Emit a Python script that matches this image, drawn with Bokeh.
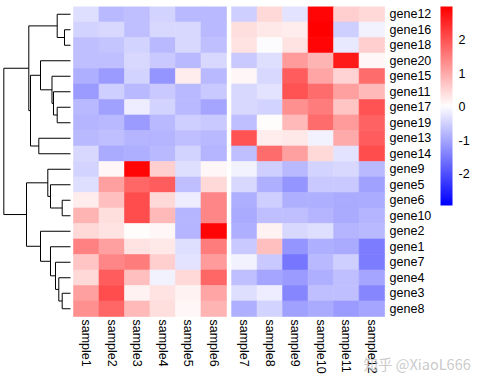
import math
from bokeh.plotting import figure
from bokeh.models import LinearColorMapper, ColorBar, FixedTicker, ColumnDataSource
from bokeh.core.properties import value
from bokeh.transform import transform
from bokeh.embed import file_html
from bokeh.resources import INLINE

# ---------------- data ----------------
samples = ["sample1", "sample2", "sample3", "sample4", "sample5", "sample6",
           "sample7", "sample8", "sample9", "sample10", "sample11", "sample12"]
genes = ["gene12", "gene16", "gene18", "gene20", "gene15", "gene11", "gene17",
         "gene19", "gene13", "gene14", "gene9", "gene5", "gene6", "gene10",
         "gene2", "gene1", "gene7", "gene4", "gene3", "gene8"]

gene12 = [-0.35, -0.75, -0.70, -0.50, -0.75, -0.80, -0.55, 0.50, -0.30, 2.90, 0.60, 0.45]
gene16 = [-0.50, -0.45, -0.70, -0.45, -0.45, -0.75, 0.40, 0.30, 0.25, 3.00, -0.55, -0.15]
gene18 = [-0.70, -0.65, -0.50, -0.75, -0.40, -0.70, 0.35, 0.00, 0.35, 2.90, -0.25, 0.60]
gene20 = [-0.70, -0.70, -0.45, -0.60, -0.75, -0.40, -0.60, -0.35, 1.20, 0.90, 2.65, 0.10]
gene15 = [-0.90, -1.15, -0.50, -1.20, 0.25, -0.80, 0.10, -0.45, 1.90, 1.05, 0.55, 1.70]
gene11 = [-1.15, -0.55, -0.80, -0.60, -0.80, -0.60, -0.40, -0.30, 2.00, 1.70, 1.10, 0.80]
gene17 = [-0.80, -1.10, -0.20, -0.50, -0.80, -1.00, -0.40, -0.50, 1.30, 1.55, 0.70, 2.00]
gene19 = [-0.85, -0.80, -1.15, -0.80, -0.55, -0.60, -0.70, 0.05, 0.80, 1.75, 1.20, 1.85]
gene13 = [-0.80, -0.70, -0.85, -0.85, -0.70, -0.80, 2.00, 0.25, 0.30, -0.10, 1.00, 1.90]
gene14 = [-0.40, -0.95, -0.90, -0.80, -0.50, -0.85, -0.70, 1.70, 1.10, 0.45, -0.30, 2.05]
gene9 = [-0.50, 0.10, 2.90, 0.60, -0.35, 0.10, -0.10, -0.55, -0.75, -0.50, -0.40, -0.75]
gene5 = [-0.35, 1.10, 1.80, 1.90, -0.70, 0.45, -0.45, -0.90, -1.20, -0.60, -0.60, -1.10]
gene6 = [0.25, 0.75, 2.10, 0.45, -0.20, 1.40, -0.90, -0.55, -0.90, -0.90, -0.95, -0.95]
gene10 = [0.90, 0.40, 2.05, 0.80, -0.85, 1.45, -0.95, -0.70, -0.70, -0.85, -0.95, -0.85]
gene2 = [0.45, 0.35, 0.05, 0.10, -0.85, 2.90, -0.90, 0.20, -0.40, -0.35, -0.85, -0.75]
gene1 = [1.50, 1.10, 0.35, 0.30, -0.35, 1.55, -0.60, 0.75, -1.20, -0.90, -0.95, -1.50]
gene7 = [0.70, 1.45, 1.55, 0.60, -0.30, 1.20, -0.10, -0.60, -1.55, -0.80, -0.55, -1.50]
gene4 = [0.45, 1.90, 0.75, -0.10, 0.45, 1.80, -0.70, -1.00, -1.15, -0.90, -0.70, -1.00]
gene3 = [1.10, 2.10, 0.20, 0.35, 0.15, 1.05, -0.35, -0.20, -1.40, -0.70, -0.70, -1.35]
gene8 = [1.30, 1.80, 0.80, 0.40, 0.10, 0.90, -0.90, -0.50, -1.10, -0.95, -1.15, -1.00]

rows = [gene12, gene16, gene18, gene20, gene15, gene11, gene17, gene19, gene13, gene14,
        gene9, gene5, gene6, gene10, gene2, gene1, gene7, gene4, gene3, gene8]

# row dendrogram: (node, left, right, merge height)
merges = [
    ("n0", "gene16", "gene18", 0.60),
    ("n1", "gene12", "n0", 1.33),
    ("n2", "gene17", "gene19", 1.33),
    ("n3", "gene11", "n2", 1.70),
    ("n4", "gene15", "n3", 1.85),
    ("n5", "gene20", "n4", 3.00),
    ("n6", "gene13", "gene14", 3.17),
    ("n7", "n5", "n6", 4.00),
    ("n8", "n1", "n7", 4.17),
    ("n9", "gene6", "gene10", 0.83),
    ("n10", "gene5", "n9", 2.00),
    ("n11", "gene9", "n10", 2.27),
    ("n12", "gene3", "gene8", 0.83),
    ("n13", "gene4", "n12", 1.17),
    ("n14", "gene7", "n13", 1.50),
    ("n15", "gene1", "n14", 2.00),
    ("n16", "gene2", "n15", 3.00),
    ("n17", "n11", "n16", 4.40),
    ("n18", "n8", "n17", 6.67),
]

colorbar_ticks = [-2, -1, 0, 1, 2]
value_low, value_high = -2.95, 3.0
watermark = "知乎 @XiaoL666"

# ---------------- layout helpers ----------------
NR, NC = len(genes), len(samples)
GAP = 0.2          # gap between the two column clusters (in cell widths)
SPLIT = 6          # column cut after sample6
CELL_W = 25.5      # px per column
CELL_H = 15.5      # px per row
LEAF_X = -0.118    # where dendrogram leaves end
DSCALE = 0.392     # data units per height unit
FRAME_W, FRAME_H = 478, 378


def col_center(j):
    return j + 0.5 + (GAP if j >= SPLIT else 0.0)


def row_center(i):
    return NR - 0.5 - i


def ramp(n):
    out = []
    for k in range(n):
        t = k / (n - 1)
        if t <= 0.5:
            f = t / 0.5
            r = g = int(round(255 * f))
            b = 255
        else:
            f = (t - 0.5) / 0.5
            r = 255
            g = b = int(round(255 * (1 - f)))
        out.append("#%02x%02x%02x" % (r, g, b))
    return out


mapper = LinearColorMapper(palette=ramp(100), low=value_low, high=value_high)

xs, ys, vs = [], [], []
for i, row in enumerate(rows):
    for j, v in enumerate(row):
        xs.append(col_center(j))
        ys.append(row_center(i))
        vs.append(v)
src = ColumnDataSource(dict(x=xs, y=ys, v=vs))

x_left = -(73 - 2) / CELL_W
x_right = x_left + FRAME_W / CELL_W
y_bottom = NR - FRAME_H / CELL_H

p = figure(frame_width=FRAME_W, frame_height=FRAME_H, x_range=(x_left, x_right),
           y_range=(y_bottom, NR), output_backend="svg", toolbar_location=None,
           min_border_left=2, min_border_top=6, min_border_right=0, min_border_bottom=0,
           background_fill_color="white", border_fill_color="white")
p.outline_line_color = None
p.grid.visible = False
p.axis.visible = False

p.rect(x="x", y="y", width=1, height=1, source=src,
       fill_color=transform("v", mapper), line_color=transform("v", mapper), line_width=0.6)

# dendrogram
pos = {g: (row_center(i), 0.0) for i, g in enumerate(genes)}
x0s, y0s, x1s, y1s = [], [], [], []


def hx(h):
    return LEAF_X - h * DSCALE


for name, a, b, h in merges:
    ya, ha = pos[a]
    yb, hb = pos[b]
    x0s += [hx(ha), hx(hb), hx(h)]
    x1s += [hx(h), hx(h), hx(h)]
    y0s += [ya, yb, ya]
    y1s += [ya, yb, yb]
    pos[name] = ((ya + yb) / 2, h)

p.segment(x0=x0s, y0=y0s, x1=x1s, y1=y1s, line_color="black", line_width=1)

FONT = "Liberation Sans"

# column labels (rotated, reading downwards)
p.text(x=[col_center(j) for j in range(NC)], y=[-3 / CELL_H] * NC, text=samples,
       angle=-math.pi / 2, text_align="left", text_baseline="middle",
       text_font=value(FONT), text_font_size=value("12.5px"), text_color="black")

# row labels
heat_right = NC + GAP
p.text(x=[heat_right + 5 / CELL_W] * NR, y=[row_center(i) for i in range(NR)], text=genes,
       text_align="left", text_baseline="middle",
       text_font=value(FONT), text_font_size=value("12.5px"), text_color="black")

cb = ColorBar(color_mapper=mapper, ticker=FixedTicker(ticks=colorbar_ticks),
              major_label_overrides={t: str(t) for t in colorbar_ticks},
              width=12, height=199, location=(438, 179), padding=0, margin=0,
              bar_line_color=None, major_tick_line_color=None, minor_tick_line_color=None,
              major_label_text_font=FONT, major_label_text_font_size="12.5px",
              major_label_text_color="black", label_standoff=6,
              background_fill_color=None, border_line_color=None)
p.add_layout(cb, "center")

# watermark
p.text(x=[(363 - 73) / CELL_W], y=[-47 / CELL_H], text=[watermark],
       text_align="left", text_baseline="middle",
       text_font=value("Noto Sans CJK SC"), text_font_size=value("14.5px"),
       text_color="#c4c4c4", text_alpha=0.9)

open("out.html", "w").write(file_html(p, INLINE))
